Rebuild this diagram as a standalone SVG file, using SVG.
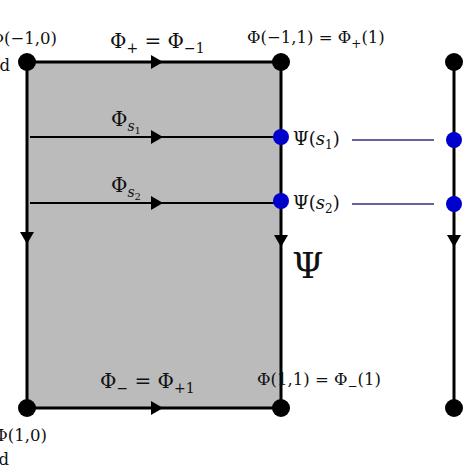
<svg xmlns="http://www.w3.org/2000/svg" width="474" height="474" viewBox="0 0 474 474">
<style>
text{font-family:"DejaVu Serif","Liberation Serif",serif;fill:#111}
.lbl{font-size:16.5px}
.mid{font-size:20px}
.ps{font-size:18px}
.thick{stroke:#000;stroke-width:3;fill:none}
.thin{stroke:#000;stroke-width:2;fill:none}
.blue{stroke:#30307a;stroke-width:1.3}
</style>
<defs>
<polygon id="ar" points="-6,-7 6,0 -6,7" fill="#000"/>
<polygon id="ad" points="-7,-6 7,-6 0,6" fill="#000"/>
</defs>
<rect x="27" y="62" width="254" height="346" fill="#bbbbbb"/>
<g id="connectors">
<line class="thick" x1="27" y1="62" x2="281" y2="62"/>
<line class="thick" x1="27" y1="408" x2="281" y2="408"/>
<line class="thick" x1="27" y1="62" x2="27" y2="408"/>
<line class="thick" x1="281" y1="62" x2="281" y2="408"/>
<line class="thin" x1="30" y1="137" x2="281" y2="137"/>
<line class="thin" x1="30" y1="203" x2="281" y2="203"/>
<line class="thick" x1="454" y1="62" x2="454" y2="408"/>
<line class="blue" x1="352" y1="140" x2="434" y2="140"/>
<line class="blue" x1="352" y1="204" x2="434" y2="204"/>
<use href="#ar" x="157" y="62"/>
<use href="#ar" x="157" y="137"/>
<use href="#ar" x="157" y="203"/>
<use href="#ar" x="157" y="408"/>
<use href="#ad" x="27" y="238"/>
<use href="#ad" x="281" y="241"/>
<use href="#ad" x="454" y="241"/>
</g>
<g id="n-tl"><circle cx="27" cy="62" r="9" fill="#000"/></g>
<g id="n-tr"><circle cx="281" cy="62" r="9" fill="#000"/></g>
<g id="n-bl"><circle cx="27" cy="408" r="9" fill="#000"/></g>
<g id="n-br"><circle cx="281" cy="408" r="9" fill="#000"/></g>
<g id="n-rt"><circle cx="454" cy="62" r="9" fill="#000"/></g>
<g id="n-rb"><circle cx="454" cy="408" r="9" fill="#000"/></g>
<g id="n-s1"><circle cx="281" cy="137" r="8" fill="#0000cc"/></g>
<g id="n-s2"><circle cx="281" cy="201" r="8" fill="#0000cc"/></g>
<g id="n-rs1"><circle cx="454" cy="140" r="8" fill="#0000cc"/></g>
<g id="n-rs2"><circle cx="454" cy="204" r="8" fill="#0000cc"/></g>
<g id="labels">
<text class="lbl" x="57" y="44" text-anchor="end">Φ(−1,0)</text>
<text class="lbl" x="10" y="71" text-anchor="end">d</text>
<text class="mid" x="110" y="48">Φ<tspan font-size="14" dy="5">+</tspan><tspan dy="-5"> = Φ</tspan><tspan font-size="14" dy="5">−1</tspan></text>
<text class="lbl" x="247" y="43">Φ(−1,1) = Φ<tspan font-size="12" dy="5">+</tspan><tspan dy="-5">(1)</tspan></text>
<text class="mid" x="111" y="126">Φ<tspan font-size="14" dy="5" font-style="italic">s</tspan><tspan font-size="10" dy="3">1</tspan></text>
<text class="mid" x="111" y="192">Φ<tspan font-size="14" dy="5" font-style="italic">s</tspan><tspan font-size="10" dy="3">2</tspan></text>
<text class="ps" x="293" y="145">Ψ(<tspan font-style="italic">s</tspan><tspan font-size="12" dy="4">1</tspan><tspan dy="-4">)</tspan></text>
<text class="ps" x="293" y="209">Ψ(<tspan font-style="italic">s</tspan><tspan font-size="12" dy="4">2</tspan><tspan dy="-4">)</tspan></text>
<text x="292" y="278" font-size="36" font-family="Liberation Serif, serif">Ψ</text>
<text class="mid" x="100" y="388">Φ<tspan font-size="14" dy="5">−</tspan><tspan dy="-5"> = Φ</tspan><tspan font-size="14" dy="5">+1</tspan></text>
<text class="lbl" x="257" y="385">Φ(1,1) = Φ<tspan font-size="12" dy="5">−</tspan><tspan dy="-5">(1)</tspan></text>
<text class="lbl" x="47" y="441" text-anchor="end">Φ(1,0)</text>
<text class="lbl" x="9" y="465" text-anchor="end">d</text>
</g>
</svg>
